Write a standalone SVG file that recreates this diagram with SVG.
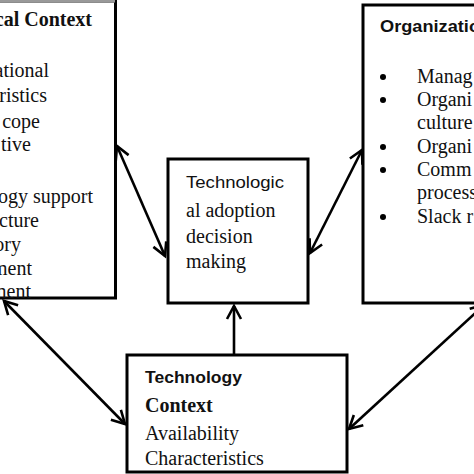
<svg xmlns="http://www.w3.org/2000/svg" width="474" height="474" viewBox="0 0 474 474">
<style>
.box{fill:#fff;stroke:#000;stroke-width:3}
.t{font-family:"Liberation Serif","Times New Roman",serif;font-size:20px;fill:#111}
.tb{font-family:"Liberation Serif","Times New Roman",serif;font-size:20px;font-weight:bold;fill:#111}
.s{font-family:"Liberation Sans",Arial,sans-serif;font-size:17px;fill:#111}
.sb{font-family:"Liberation Sans",Arial,sans-serif;font-size:17px;font-weight:bold;fill:#111}
.c{fill:none;stroke:#000;stroke-width:2.6}
</style>
<defs>
<marker id="ah" markerUnits="userSpaceOnUse" markerWidth="30" markerHeight="30" viewBox="-15 -15 30 30" refX="0" refY="0" orient="auto-start-reverse">
<path d="M-13,-7 L0,0 L-13,7" fill="none" stroke="#000" stroke-width="2.6"/>
</marker>
</defs>
<rect width="474" height="474" fill="#fff"/>
<g id="social-context">
<rect class="box" x="-20" y="1" width="135.5" height="297"/>
<line x1="0" y1="1" x2="115" y2="1" stroke="#999" stroke-width="3"/>
<text class="tb" x="92" y="26" text-anchor="end">ical Context</text>
<text class="t" x="49" y="77" text-anchor="end">ational</text>
<text class="t" x="47" y="102" text-anchor="end">ristics</text>
<text class="t" x="40" y="128" text-anchor="end">cope</text>
<text class="t" x="31" y="151" text-anchor="end">tive</text>
<text class="t" x="93" y="203" text-anchor="end">ology support</text>
<text class="t" x="39" y="227" text-anchor="end">cture</text>
<text class="t" x="21" y="251" text-anchor="end">ory</text>
<text class="t" x="32" y="275" text-anchor="end">ment</text>
<text class="t" x="31" y="298" text-anchor="end">ment</text>
</g>
<g id="organization-context">
<rect class="box" x="363" y="5" width="130" height="298"/>
<text class="sb" x="380" y="32" textLength="100" lengthAdjust="spacingAndGlyphs">Organizatio</text>
<g fill="#000">
<circle cx="383" cy="77" r="3"/>
<circle cx="383" cy="100" r="3"/>
<circle cx="383" cy="147" r="3"/>
<circle cx="383" cy="170" r="3"/>
<circle cx="383" cy="217" r="3"/>
</g>
<text class="t" x="417" y="83">Manag</text>
<text class="t" x="417" y="106">Organi</text>
<text class="t" x="417" y="129">culture</text>
<text class="t" x="417" y="153">Organi</text>
<text class="t" x="417" y="176">Comm</text>
<text class="t" x="417" y="199">process</text>
<text class="t" x="417" y="223">Slack r</text>
</g>
<g id="decision">
<rect class="box" x="168" y="159" width="140" height="144"/>
<text class="s" x="186" y="188" textLength="98" lengthAdjust="spacingAndGlyphs">Technologic</text>
<text class="t" x="186" y="217">al adoption</text>
<text class="t" x="186" y="243">decision</text>
<text class="t" x="186" y="268">making</text>
</g>
<g id="technology-context">
<rect class="box" x="127" y="355" width="220" height="117"/>
<text class="sb" x="145" y="383" textLength="97" lengthAdjust="spacingAndGlyphs">Technology</text>
<text class="tb" x="145" y="412">Context</text>
<text class="t" x="145" y="440">Availability</text>
<text class="t" x="145" y="465">Characteristics</text>
</g>
<g id="connectors">
<line class="c" x1="117" y1="146" x2="165" y2="256" marker-start="url(#ah)" marker-end="url(#ah)"/>
<line class="c" x1="362" y1="150" x2="310" y2="253" marker-start="url(#ah)" marker-end="url(#ah)"/>
<line class="c" x1="234" y1="354" x2="234" y2="306" marker-end="url(#ah)"/>
<line class="c" x1="4" y1="301" x2="125" y2="424" marker-start="url(#ah)" marker-end="url(#ah)"/>
<line class="c" x1="484" y1="305" x2="349" y2="429" marker-start="url(#ah)" marker-end="url(#ah)"/>
</g>
</svg>
